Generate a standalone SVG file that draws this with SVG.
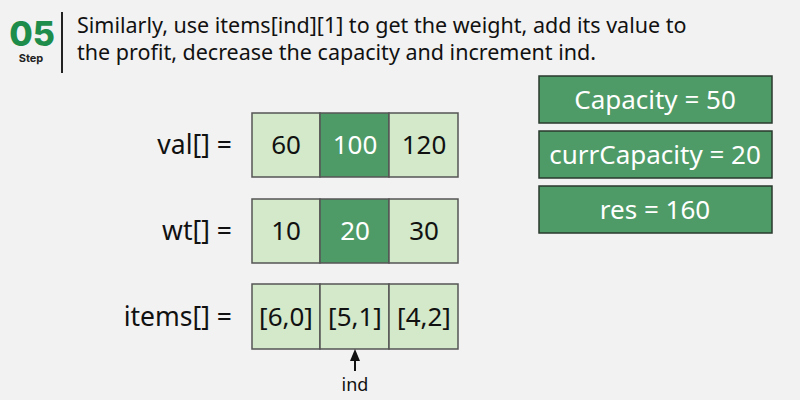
<svg xmlns="http://www.w3.org/2000/svg" width="800" height="400" viewBox="0 0 800 400">
<defs>
<style>
text{font-family:"Noto Sans","Open Sans",sans-serif;}
.lt{fill:#d3e9c9;stroke:#555;stroke-width:1.5;}
.dk{fill:#4f9b67;stroke:#555;stroke-width:1.5;}
.bx{fill:#4f9b67;stroke:#2a3a2e;stroke-width:1.5;}
.c{font-size:26px;text-anchor:middle;fill:#111;}
.w{fill:#fff;}
.lbl{font-size:26.5px;text-anchor:end;fill:#111;}
.bt{font-size:26px;text-anchor:middle;fill:#fff;}
</style>
</defs>
<rect width="800" height="400" fill="#f2f2f2"/>
<g id="header">
<text x="32" y="46" font-size="34" font-weight="800" fill="#1e8c4a" text-anchor="middle" style="font-family:Inter,'Noto Sans',sans-serif">05</text>
<text x="31" y="62" font-size="11" font-weight="700" fill="#222" text-anchor="middle" style="font-family:Inter,'Noto Sans',sans-serif">Step</text>
<line x1="62" y1="12" x2="62" y2="73" stroke="#222" stroke-width="2"/>
<text x="77" y="33" font-size="21.5" fill="#111">Similarly, use items[ind][1] to get the weight, add its value to</text>
<text x="77" y="60" font-size="21.5" fill="#111">the profit, decrease the capacity and increment ind.</text>
</g>
<g id="val">
<text class="lbl" x="232" y="154">val[] =</text>
<rect class="lt" x="252" y="113" width="68" height="64"/>
<rect class="dk" x="320" y="113" width="69" height="64"/>
<rect class="lt" x="389" y="113" width="69" height="64"/>
<text class="c" x="286" y="154">60</text>
<text class="c w" x="355" y="154">100</text>
<text class="c" x="424" y="154">120</text>
</g>
<g id="wt">
<text class="lbl" x="232" y="240">wt[] =</text>
<rect class="lt" x="252" y="199" width="68" height="64"/>
<rect class="dk" x="320" y="199" width="69" height="64"/>
<rect class="lt" x="389" y="199" width="69" height="64"/>
<text class="c" x="286" y="240">10</text>
<text class="c w" x="355" y="240">20</text>
<text class="c" x="424" y="240">30</text>
</g>
<g id="items">
<text class="lbl" x="232" y="326">items[] =</text>
<rect class="lt" x="252" y="284" width="68" height="65"/>
<rect class="lt" x="320" y="284" width="69" height="65"/>
<rect class="lt" x="389" y="284" width="69" height="65"/>
<text class="c" x="286" y="326">[6,0]</text>
<text class="c" x="355" y="326">[5,1]</text>
<text class="c" x="424" y="326">[4,2]</text>
</g>
<g id="ind">
<text x="355" y="391" font-size="18" text-anchor="middle" fill="#111">ind</text>
</g>
<g id="connectors">
<line x1="355" y1="371" x2="355" y2="358" stroke="#111" stroke-width="2"/>
<polygon points="355,349 360,361 350,361" fill="#111"/>
</g>
<g id="capacity">
<rect class="bx" x="539" y="76" width="233" height="47"/>
<text class="bt" x="655" y="109">Capacity = 50</text>
</g>
<g id="currCapacity">
<rect class="bx" x="539" y="131" width="233" height="47"/>
<text class="bt" x="655" y="164">currCapacity = 20</text>
</g>
<g id="res">
<rect class="bx" x="539" y="186" width="233" height="47"/>
<text class="bt" x="655" y="219">res = 160</text>
</g>
</svg>
